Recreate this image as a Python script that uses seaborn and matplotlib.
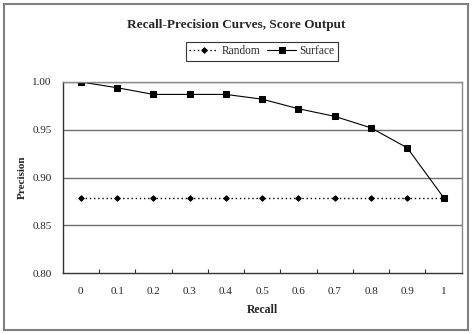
import numpy as np
import pandas as pd
import matplotlib
matplotlib.use("Agg")
import matplotlib.pyplot as plt
import seaborn as sns
from matplotlib.patches import Rectangle

recall_labels = ["0", "0.1", "0.2", "0.3", "0.4", "0.5", "0.6", "0.7", "0.8", "0.9", "1"]
random_prec = [0.879] * 11
surface_prec = [1.000, 0.994, 0.987, 0.987, 0.987, 0.982, 0.972, 0.964, 0.952, 0.931, 0.879]
y_ticks = [0.80, 0.85, 0.90, 0.95, 1.00]

sns.set_theme(style="white")
plt.rcParams['font.family'] = ['Liberation Serif', 'DejaVu Serif']

pos = np.arange(len(recall_labels))
df = pd.DataFrame({
    "pos": np.concatenate([pos, pos]),
    "Precision": random_prec + surface_prec,
    "Series": ["Random"] * len(pos) + ["Surface"] * len(pos),
})

fig = plt.figure(figsize=(4.74, 3.34), dpi=100)
ax = fig.add_axes([0.1323, 0.1826, 0.8418, 0.5719])

sns.lineplot(data=df[df.Series == "Random"], x="pos", y="Precision", ax=ax,
             color="black", linestyle=(0, (1, 2)), linewidth=1.0,
             marker="D", markersize=2.8, markeredgecolor="black", label="Random")
sns.lineplot(data=df[df.Series == "Surface"], x="pos", y="Precision", ax=ax,
             color="black", linestyle="-", linewidth=0.8,
             marker="s", markersize=3.8, markeredgecolor="black", label="Surface")

ax.set_xlim(-0.5, len(recall_labels) - 0.5)
ax.set_ylim(0.80, 1.00)
ax.set_yticks(y_ticks)
ax.set_yticklabels([f"{v:.2f}" for v in y_ticks], fontsize=8)
ax.set_xticks(pos)
ax.set_xticklabels(recall_labels, fontsize=8)
ax.set_xticks(np.arange(0.5, len(recall_labels) - 0.5, 1.0), minor=True)
ax.tick_params(axis="x", which="major", length=0, pad=10)
ax.tick_params(axis="x", which="minor", direction="in", length=3, width=0.8, color="#333333", bottom=True)
ax.tick_params(axis="y", which="major", length=0, pad=8)

for v in y_ticks[1:]:
    ax.axhline(v, color="#6f6f6f", linewidth=1.0, zorder=0)

for s in ["left", "bottom"]:
    ax.spines[s].set_color("#333333")
    ax.spines[s].set_linewidth(1.0)
for s in ["top", "right"]:
    ax.spines[s].set_color("#8a8a8a")
    ax.spines[s].set_linewidth(1.0)

ax.set_xlabel("Recall", fontsize=8.5, fontweight="bold", labelpad=6)
ax.set_ylabel("Precision", fontsize=8, fontweight="bold", labelpad=4)

fig.text(0.498, 0.925, "Recall-Precision Curves, Score Output", ha="center", va="center",
         fontsize=9.5, fontweight="bold")

ax.get_legend().remove()
leg = fig.legend(loc="center", bbox_to_anchor=(0.553, 0.846), ncol=2, fontsize=8.3,
                 frameon=True, fancybox=False, edgecolor="black", handlelength=2.5,
                 handletextpad=0.3, columnspacing=0.6, borderpad=0.3)
leg.get_frame().set_linewidth(0.8)

fig.patches.append(Rectangle((0.009, 0.012), 0.978, 0.976, transform=fig.transFigure,
                             fill=False, edgecolor="#7f7f7f", linewidth=1.5))

fig.savefig("out.png", dpi=100)
